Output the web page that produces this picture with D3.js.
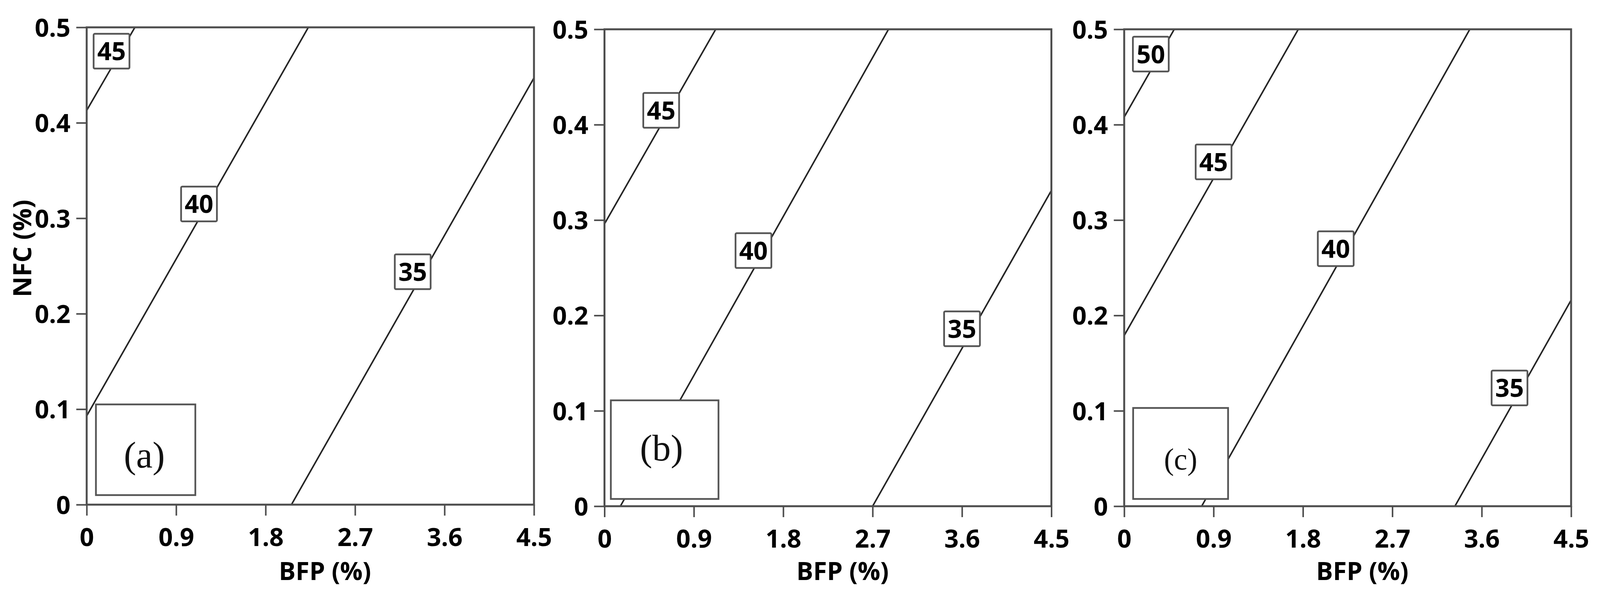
<!DOCTYPE html>
<html>
<head>
<meta charset="utf-8">
<script src="https://cdn.jsdelivr.net/npm/d3@7/dist/d3.min.js"></script>
<style>
  html, body { margin: 0; padding: 0; background: #fff; width: 100%; height: 100%; overflow: hidden; }
  svg { display: block; }
</style>
</head>
<body>
<svg id="chart" viewBox="0 0 4153 1531" preserveAspectRatio="none" style="width:100vw;height:100vh"></svg>
<script>
// ---------- DATA ----------
const bfpTicks = [0, 0.9, 1.8, 2.7, 3.6, 4.5];
const nfcTicks = [0, 0.1, 0.2, 0.3, 0.4, 0.5];
const xTitle = "BFP (%)";
const yTitle = "NFC (%)";

const panelNames = ["(a)", "(b)", "(c)"];

// contour levels per panel
const levelsA = [45, 40, 35];
const levelsB = [45, 40, 35];
const levelsC = [50, 45, 40, 35];

// contour line end points [BFP, NFC]
const linesA = [[[0, 0.413], [0.485, 0.5]], [[0, 0.093], [2.23, 0.5]], [[2.06, 0], [4.5, 0.447]]];
const linesB = [[[0, 0.296], [1.12, 0.5]], [[0.16, 0], [2.86, 0.5]], [[2.70, 0], [4.5, 0.331]]];
const linesC = [[[0, 0.408], [0.504, 0.5]], [[0, 0.179], [1.753, 0.5]], [[0.78, 0], [3.48, 0.5]], [[3.33, 0], [4.5, 0.216]]];

// contour label anchor points [BFP, NFC]
const labelPosA = [[0.25, 0.475], [1.13, 0.315], [3.28, 0.244]];
const labelPosB = [[0.571, 0.415], [1.50, 0.268], [3.60, 0.186]];
const labelPosC = [[0.268, 0.474], [0.90, 0.361], [2.13, 0.270], [3.88, 0.124]];

// panel tag box extents [BFP0, BFP1, NFC0, NFC1] and tag text anchor [BFP, NFC]
const tagBoxes = [[0.093, 1.093, 0.010, 0.105], [0.064, 1.148, 0.0076, 0.111], [0.09, 1.046, 0.0076, 0.103]];
const tagTextPos = [[0.58, 0.049], [0.574, 0.058], [0.568, 0.047]];

// ---------- LAYOUT ----------
const frames = [
  { left: 225,  right: 1386, top: 70, bottom: 1292 },
  { left: 1569, right: 2729, top: 75, bottom: 1296 },
  { left: 2918, right: 4078, top: 75, bottom: 1296 }
];
const tagFont = [96, 96, 78];
const panels = [
  { levels: levelsA, lines: linesA, labels: labelPosA },
  { levels: levelsB, lines: linesB, labels: labelPosB },
  { levels: levelsC, lines: linesC, labels: labelPosC }
];

const FONT = "'Open Sans', 'Noto Sans', sans-serif";
const FS = 65;
const frameColor = "#4d4d4d";
const lineColor = "#262626";

const svg = d3.select("#chart");
svg.append("rect").attr("width", 4153).attr("height", 1531).attr("fill", "#fff");

panels.forEach((p, i) => {
  const f = frames[i];
  const w = f.right - f.left, h = f.bottom - f.top;
  const x = d3.scaleLinear().domain([0, 4.5]).range([0, w]);
  const y = d3.scaleLinear().domain([0, 0.5]).range([h, 0]);

  const g = svg.append("g").attr("transform", `translate(${f.left},${f.top})`);

  const clipId = "clip" + i;
  g.append("clipPath").attr("id", clipId)
    .append("rect").attr("width", w).attr("height", h);

  // contour lines
  const lineGen = d3.line().x(d => x(d[0])).y(d => y(d[1]));
  g.append("g").attr("clip-path", `url(#${clipId})`)
    .selectAll("path").data(p.lines).join("path")
    .attr("d", lineGen)
    .attr("fill", "none")
    .attr("stroke", lineColor)
    .attr("stroke-width", 4);

  // contour labels
  const bw = 93, bh = 89;
  const lab = g.append("g").selectAll("g").data(p.labels).join("g")
    .attr("transform", d => `translate(${x(d[0])},${y(d[1])})`);
  lab.append("rect")
    .attr("x", -bw / 2).attr("y", -bh / 2)
    .attr("width", bw).attr("height", bh)
    .attr("rx", 3)
    .attr("fill", "#fff")
    .attr("stroke", "#555")
    .attr("stroke-width", 4.5);
  lab.append("text")
    .attr("text-anchor", "middle")
    .attr("y", FS * 0.357)
    .attr("font-family", FONT)
    .attr("font-weight", 700)
    .attr("font-size", FS)
    .attr("fill", "#000")
    .text((d, j) => p.levels[j]);

  // tag box
  const tb = tagBoxes[i];
  g.append("rect")
    .attr("x", x(tb[0])).attr("y", y(tb[3]))
    .attr("width", x(tb[1]) - x(tb[0]))
    .attr("height", y(tb[2]) - y(tb[3]))
    .attr("fill", "#fff")
    .attr("stroke", "#555")
    .attr("stroke-width", 4.5);
  const tt = tagTextPos[i];
  g.append("text")
    .attr("x", x(tt[0])).attr("y", y(tt[1]) + tagFont[i] * 0.26)
    .attr("text-anchor", "middle")
    .attr("font-family", "'Liberation Serif', 'Times New Roman', serif")
    .attr("font-size", tagFont[i])
    .attr("fill", "#111")
    .text(panelNames[i]);

  // frame
  g.append("rect")
    .attr("width", w).attr("height", h)
    .attr("fill", "none")
    .attr("stroke", frameColor)
    .attr("stroke-width", 5);

  // axes
  const xAxis = g.append("g").attr("transform", `translate(0,${h})`)
    .call(d3.axisBottom(x).tickValues(bfpTicks).tickSize(28).tickSizeOuter(0).tickFormat(d => String(d)));
  const yAxis = g.append("g")
    .call(d3.axisLeft(y).tickValues(nfcTicks).tickSize(27).tickSizeOuter(0).tickFormat(d => String(d)));
  [xAxis, yAxis].forEach(a => {
    a.select(".domain").remove();
    a.selectAll(".tick line").attr("stroke", frameColor).attr("stroke-width", 4);
    a.selectAll(".tick text")
      .attr("font-family", FONT)
      .attr("font-weight", 700)
      .attr("font-size", FS)
      .attr("fill", "#000");
  });
  xAxis.selectAll(".tick text").attr("dy", null).attr("y", 106);
  yAxis.selectAll(".tick text").attr("dy", null).attr("x", -42).attr("y", FS * 0.357);

  // x title
  g.append("text")
    .attr("x", w / 2 + 38).attr("y", 1485 - f.top)
    .attr("text-anchor", "middle")
    .attr("font-family", FONT)
    .attr("font-weight", 700)
    .attr("font-size", FS)
    .attr("fill", "#000")
    .text(xTitle);

  // y title (only first panel)
  if (i === 0) {
    g.append("text")
      .attr("transform", `translate(${58 - f.left + FS * 0.36},${636 - f.top}) rotate(-90)`)
      .attr("text-anchor", "middle")
      .attr("font-family", FONT)
      .attr("font-weight", 700)
      .attr("font-size", FS)
      .attr("fill", "#000")
      .text(yTitle);
  }
});
</script>
</body>
</html>
